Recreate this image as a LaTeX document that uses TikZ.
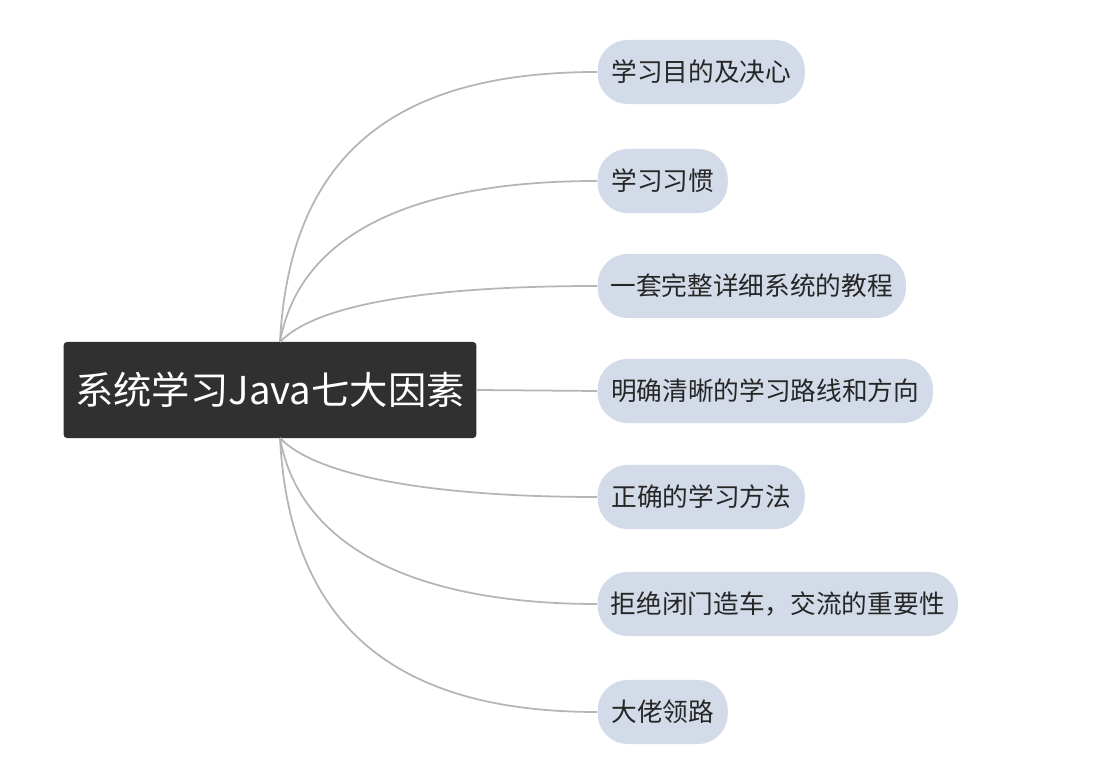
\documentclass[tikz,border=0pt]{standalone}
\usepackage{fontspec}
\setmainfont{Noto Sans CJK SC}
\definecolor{leaf}{HTML}{D3DBE9}
\definecolor{dark}{HTML}{303030}
\definecolor{wire}{HTML}{B5B5B5}
\begin{document}
\begin{tikzpicture}[x=0.01cm,y=-0.01cm,
  leafbox/.style={fill=leaf,rounded corners=0.3cm,minimum height=0.64cm,inner xsep=0.1cm,anchor=west,font=\fontsize{7.3pt}{8.5pt}\selectfont,text=black!85},
  wirel/.style={draw=wire,line width=0.5pt}]
\useasboundingbox (0,0) rectangle (1096,758);
\node[fill=dark,text=white,minimum width=4.12cm,minimum height=0.96cm,rounded corners=1pt,font=\fontsize{10.9pt}{12pt}\selectfont] (c) at (270,390) {系统学习Java七大因素};
\coordinate (ct) at (280,342);
\coordinate (cb) at (280,438);
\node[leafbox,minimum width=2.07cm] (l1) at (597,72) {学习目的及决心};
\node[leafbox,minimum width=1.30cm] (l2) at (597,181) {学习习惯};
\node[leafbox,minimum width=3.08cm] (l3) at (597,286) {一套完整详细系统的教程};
\node[leafbox,minimum width=3.35cm] (l4) at (597,391) {明确清晰的学习路线和方向};
\node[leafbox,minimum width=2.07cm] (l5) at (597,497) {正确的学习方法};
\node[leafbox,minimum width=3.60cm] (l6) at (597,604) {拒绝闭门造车，交流的重要性};
\node[leafbox,minimum width=1.30cm] (l7) at (597,712) {大佬领路};
\draw[wirel] (ct) .. controls (290,150) and (400,72) .. (l1.west);
\draw[wirel] (ct) .. controls (300,230) and (420,181) .. (l2.west);
\draw[wirel] (ct) .. controls (320,300) and (450,286) .. (l3.west);
\draw[wirel] (c.east) -- (l4.west);
\draw[wirel] (cb) .. controls (320,480) and (450,497) .. (l5.west);
\draw[wirel] (cb) .. controls (300,550) and (420,604) .. (l6.west);
\draw[wirel] (cb) .. controls (290,630) and (400,712) .. (l7.west);
\end{tikzpicture}
\end{document}
